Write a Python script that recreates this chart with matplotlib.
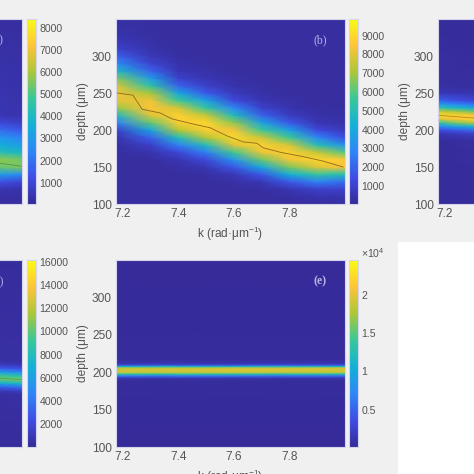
import numpy as np
import matplotlib
matplotlib.use('Agg')
import matplotlib.pyplot as plt
from matplotlib.colors import LinearSegmentedColormap
from matplotlib.patches import Rectangle

plt.rcParams['font.family'] = ['Liberation Sans', 'DejaVu Sans']
plt.rcParams['mathtext.default'] = 'regular'

parula = LinearSegmentedColormap.from_list('parula', [
    (0.2100, 0.1650, 0.5900), (0.2500, 0.3000, 0.9000), (0.1786, 0.5289, 0.9682),
    (0.0689, 0.6948, 0.8394), (0.2161, 0.7843, 0.5923), (0.6720, 0.7793, 0.2227),
    (0.9970, 0.7659, 0.2199), (0.9769, 0.9839, 0.0805)])

kTicks = [7.2, 7.4, 7.6, 7.8]
depthTicks = [100, 150, 200, 250, 300]

kB = [7.175, 7.3, 7.4, 7.5, 7.6, 7.7, 7.8, 7.9, 8.0]
depthB = list(range(100, 351, 10))
colsB = [
    [200, 200, 200, 200, 200, 200, 220, 250, 300, 500, 1000, 2700, 4800, 6800, 8000, 8200, 7800, 6500, 4700, 3000, 1900, 1000, 650, 450, 350, 300],
    [200, 200, 200, 200, 200, 200, 250, 500, 950, 2000, 3900, 6200, 7900, 8500, 8200, 7000, 5300, 3600, 2000, 1100, 650, 450, 350, 300, 250, 250],
    [200, 200, 200, 200, 230, 320, 550, 1200, 2700, 5000, 7200, 8700, 8800, 7700, 5700, 3900, 2000, 1000, 550, 400, 300, 250, 200, 200, 200, 200],
    [200, 200, 200, 230, 300, 600, 1300, 2700, 5000, 7200, 8700, 8900, 7500, 5500, 3700, 1800, 900, 550, 400, 300, 250, 200, 200, 200, 200, 200],
    [200, 200, 200, 320, 650, 1700, 3400, 5800, 8000, 9000, 8300, 6700, 4800, 2900, 1300, 700, 450, 330, 260, 200, 200, 200, 200, 200, 200, 200],
    [200, 220, 300, 600, 1700, 4000, 6300, 8200, 8800, 7600, 5700, 3800, 2000, 1000, 550, 350, 280, 230, 200, 200, 200, 200, 200, 200, 200, 200],
    [200, 300, 550, 1700, 4200, 6500, 8300, 8800, 7700, 5700, 3700, 1700, 800, 450, 320, 260, 200, 200, 200, 200, 200, 200, 200, 200, 200, 200],
    [250, 500, 1000, 2700, 5500, 7900, 8900, 7500, 5000, 2900, 1300, 550, 350, 280, 230, 200, 200, 200, 200, 200, 200, 200, 200, 200, 200, 200],
    [280, 450, 1000, 2200, 5000, 8400, 8600, 6000, 3200, 1400, 700, 400, 300, 250, 200, 200, 200, 200, 200, 200, 200, 200, 200, 200, 200, 200],
]
ridgeKB = [7.179, 7.236, 7.269, 7.334, 7.377, 7.442, 7.514, 7.575, 7.633, 7.683, 7.705, 7.766, 7.849, 7.921, 7.993]
ridgeDepthB = [250, 247, 228, 223, 215, 209, 203, 192, 184, 182, 176, 170, 164, 158, 150]

# panel (a), only its right end is in the picture
kA = [7.92, 7.96, 8.0]
depthA = [100, 110, 120, 130, 140, 150, 160, 170, 180, 190, 200, 210, 220, 350]
colsA = [
    [200, 250, 450, 1300, 3000, 5300, 5700, 4300, 3500, 2800, 1900, 1000, 500, 200],
    [200, 250, 400, 1100, 2800, 5400, 5600, 4100, 3300, 2600, 1700, 900, 450, 200],
    [200, 250, 350, 950, 2500, 5500, 5400, 3900, 3100, 2400, 1500, 800, 400, 200],
]
ridgeKA = [7.92, 7.96, 8.0]
ridgeDepthA = [155, 153, 151]

# panel (c), only its left end is in the picture
kC = [7.175, 7.24, 7.31]
depthC = [100, 185, 195, 200, 205, 210, 215, 220, 225, 230, 235, 240, 250, 260, 350]
colsC = [
    [150, 200, 600, 1500, 3400, 6000, 8800, 10000, 8500, 6000, 4000, 2200, 700, 300, 150],
    [150, 220, 800, 2000, 4200, 7200, 9500, 9800, 7800, 5200, 3200, 1700, 600, 280, 150],
    [150, 250, 1000, 2500, 5000, 8200, 10000, 9400, 7000, 4500, 2600, 1300, 500, 250, 150],
]
ridgeKC = [7.175, 7.24, 7.31]
ridgeDepthC = [220, 218, 216]

# panel (d), only its right end is in the picture
kD = [7.92, 7.96, 8.0]
depthD = [100, 170, 175, 180, 185, 190, 195, 200, 205, 210, 215, 350]
colsD = [
    [200, 350, 1000, 3000, 6500, 10000, 9500, 6000, 3000, 1200, 450, 200],
    [200, 400, 1100, 3300, 7000, 10300, 9000, 5500, 2700, 1100, 400, 200],
    [200, 450, 1300, 3700, 7500, 10500, 8500, 5000, 2400, 1000, 400, 200],
]
ridgeKD = [7.92, 7.96, 8.0]
ridgeDepthD = [192, 191, 190]

# panel (e), almost flat narrow band
kE = [7.175, 7.6, 8.0]
depthE = [100, 188, 192, 195, 198, 200, 202, 204, 206, 208, 210, 212, 214, 218, 350]
colsE = [
    [300, 350, 1200, 6000, 14000, 18500, 19000, 19000, 18000, 11000, 3000, 1400, 900, 350, 300],
    [300, 350, 1100, 5500, 13500, 18500, 19500, 19500, 18500, 11500, 3200, 1400, 900, 350, 300],
    [300, 350, 1000, 5000, 13000, 18000, 19000, 19500, 19000, 12000, 3500, 1600, 1000, 350, 300],
]

ticksA = [1000, 2000, 3000, 4000, 5000, 6000, 7000, 8000]
ticksB = [1000, 2000, 3000, 4000, 5000, 6000, 7000, 8000, 9000]
ticksD = [2000, 4000, 6000, 8000, 10000, 12000, 14000, 16000]
ticksE = [5000, 10000, 15000, 20000]
ticksLabelsE = ['0.5', '1', '1.5', '2']

W = 474.0
textColor = '#555555'
frameColor = '#d4d4ec'


def pxAxes(fig, x0, y0, x1, y1):
    # pixel box, y measured from the top of the picture
    return fig.add_axes([x0/W, 1 - y1/W, (x1 - x0)/W, (y1 - y0)/W])


def drawPanel(fig, box, k, depth, cols, vmin, vmax, label, ridgeK=None, ridgeDepth=None, lineColor='#8a6a1e', weight='normal'):
    ax = pxAxes(fig, *box)
    z = np.array(cols).T
    mesh = ax.pcolormesh(k, depth, z, shading='gouraud', cmap=parula, vmin=vmin, vmax=vmax)
    if ridgeK is not None:
        ax.plot(ridgeK, ridgeDepth, color=lineColor, lw=0.6)
    ax.set_xlim(7.175, 8.0)
    ax.set_ylim(100, 350)
    ax.set_xticks(kTicks)
    ax.set_yticks(depthTicks)
    ax.set_xticklabels(['%.1f' % t for t in kTicks])
    ax.tick_params(length=0, labelsize=8.6, labelcolor=textColor, pad=3)
    ax.set_xlabel('k (rad·μm$^{-1}$)', fontsize=8.6, color=textColor, labelpad=3)
    ax.set_ylabel('depth (μm)', fontsize=8.6, color=textColor, labelpad=2)
    ax.text(0.89, 0.886, label, transform=ax.transAxes, color='#b4b4e6', fontsize=8.5,
            family='Liberation Serif', fontweight=weight, ha='center', va='center')
    for s in ax.spines.values():
        s.set_color(frameColor)
        s.set_linewidth(0.8)
    return mesh


def drawColorbar(fig, mesh, box, ticks, tickLabels=None):
    cax = pxAxes(fig, *box)
    cb = fig.colorbar(mesh, cax=cax)
    cb.set_ticks(ticks)
    if tickLabels is not None:
        cb.set_ticklabels(tickLabels)
    cax.tick_params(length=0, labelsize=7.6, labelcolor=textColor, pad=2.5)
    cb.outline.set_edgecolor(frameColor)
    cb.outline.set_linewidth(0.8)
    return cb


def main():
    fig = plt.figure(figsize=(4.74, 4.74), dpi=100, facecolor='#f0f0f0')
    fig.add_artist(Rectangle((398/W, 0), 1 - 398/W, 1 - 242/W, transform=fig.transFigure,
                             facecolor='white', edgecolor='none'))

    top = (19, 204)
    bottom = (260, 447)

    meshA = drawPanel(fig, (-207, top[0], 22, top[1]), kA, depthA, colsA, 40, 8400, '(a)',
                      ridgeKA, ridgeDepthA, '#5f8f50')
    drawColorbar(fig, meshA, (27, top[0], 36, top[1]), ticksA)

    meshB = drawPanel(fig, (116, top[0], 345, top[1]), kB, depthB, colsB, 40, 9890, '(b)',
                      ridgeKB, ridgeDepthB)
    drawColorbar(fig, meshB, (349, top[0], 358, top[1]), ticksB)

    drawPanel(fig, (438, top[0], 667, top[1]), kC, depthC, colsC, 40, 11000, '(c)',
              ridgeKC, ridgeDepthC, '#b08a20')

    meshD = drawPanel(fig, (-207, bottom[0], 22, bottom[1]), kD, depthD, colsD, 10, 16170, '(d)',
                      ridgeKD, ridgeDepthD, '#5f9f50')
    drawColorbar(fig, meshD, (27, bottom[0], 36, bottom[1]), ticksD)

    meshE = drawPanel(fig, (116, bottom[0], 345, bottom[1]), kE, depthE, colsE, 120, 24580, '(e)', weight='bold')
    drawColorbar(fig, meshE, (349, bottom[0], 358, bottom[1]), ticksE, ticksLabelsE)
    fig.text(361/W, 1 - 253/W, '×10$^4$', fontsize=7.6, color=textColor, ha='left', va='center')

    fig.savefig('out.png', dpi=100, facecolor=fig.get_facecolor())


if __name__ == "__main__":
    main()
